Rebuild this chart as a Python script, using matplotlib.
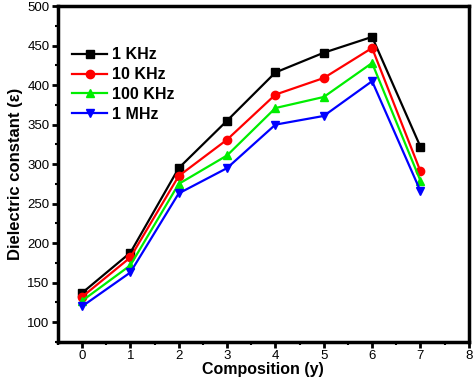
import matplotlib
matplotlib.use("Agg")
import matplotlib.pyplot as plt
from matplotlib.ticker import MultipleLocator

plt.rcParams['font.family'] = ['Liberation Sans', 'DejaVu Sans']

composition = [0, 1, 2, 3, 4, 5, 6, 7]
khz1 = [137, 188, 295, 355, 416, 441, 461, 322]
khz10 = [132, 182, 285, 331, 388, 409, 447, 291]
khz100 = [127, 172, 275, 311, 371, 385, 428, 279]
mhz1 = [120, 163, 263, 295, 350, 361, 405, 266]
labels = ['1 KHz', '10 KHz', '100 KHz', '1 MHz']

fig = plt.figure(figsize=(4.74, 3.8), dpi=100)
ax = fig.add_axes([0.122, 0.1, 0.867, 0.884])

series = [khz1, khz10, khz100, mhz1]
colors = ['black', '#ff0000', '#00ee00', '#0000ff']
markers = ['s', 'o', '^', 'v']
for ys, c, m, lab in zip(series, colors, markers, labels):
    ax.plot(composition, ys, color=c, marker=m, markersize=6, linewidth=1.6, label=lab)

ax.set_xlim(-0.5, 8)
ax.set_ylim(75, 500)
ax.xaxis.set_major_locator(MultipleLocator(1))
ax.xaxis.set_minor_locator(MultipleLocator(0.5))
ax.yaxis.set_major_locator(MultipleLocator(50))
ax.yaxis.set_minor_locator(MultipleLocator(25))
ax.tick_params(which='major', direction='out', length=4, width=2, labelsize=9.5, pad=2, top=False, right=False)
ax.tick_params(which='minor', direction='out', length=2.5, width=1.5, top=False, right=False)
for s in ax.spines.values():
    s.set_linewidth(2.5)

ax.set_xlabel('Composition (y)', fontsize=11.5, fontweight='bold', labelpad=0)
ax.set_ylabel('Dielectric constant (ε)', fontsize=12, fontweight='bold', labelpad=3)

leg = ax.legend(loc='upper left', bbox_to_anchor=(0.0, 0.92), frameon=False,
                prop={'weight': 'bold', 'size': 11.5}, handlelength=2.2,
                labelspacing=0.3, handletextpad=0.3)

fig.savefig('out.png', dpi=100)
